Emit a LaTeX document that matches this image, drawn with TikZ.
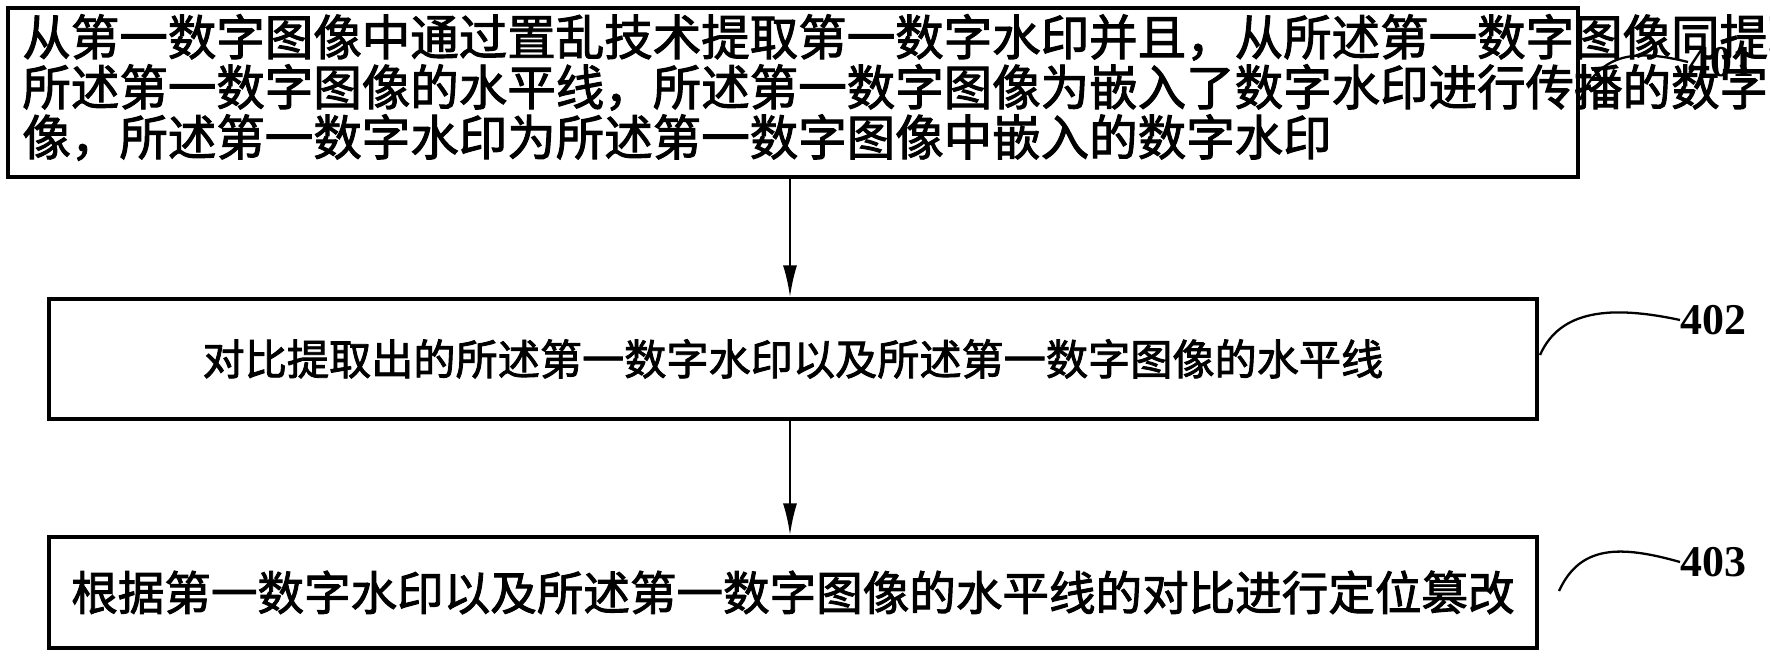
\documentclass[tikz,border=0pt]{standalone}
\usepackage{fontspec}
\setmainfont{Liberation Serif}
\newfontfamily\cjk[FakeBold=2]{Noto Sans CJK SC}
\usetikzlibrary{positioning,arrows.meta}
\tikzstyle{stepbox} = [draw,rectangle,line width=2.2pt,inner sep=0pt,anchor=north west]
\tikzstyle{tag}     = [font=\bfseries\fontsize{25}{25}\selectfont,anchor=west,inner sep=0pt]

\begin{document}
\begin{tikzpicture}[x=0.02cm,y=-0.02cm,>={Latex[length=18pt,width=8pt]},semithick]
\useasboundingbox (0,0) rectangle (1770,656);

\node[stepbox,minimum width=1570*0.02cm,minimum height=169*0.02cm] (S1) at (6,6) {};
\node[align=left,font=\cjk\fontsize{27.6}{28.5}\selectfont,anchor=west] at ([xshift=0.2cm,yshift=0.1cm]S1.west)
  {从第一数字图像中通过置乱技术提取第一数字水印并且，从所述第一数字图像同提取\\
  所述第一数字图像的水平线，所述第一数字图像为嵌入了数字水印进行传播的数字图\\
  像，所述第一数字水印为所述第一数字图像中嵌入的数字水印};
\node[stepbox,minimum width=1488*0.02cm,minimum height=120*0.02cm] (S2) at (47,297) {};
\node[font=\cjk\fontsize{24}{24}\selectfont] at (S2.center)
  {对比提取出的所述第一数字水印以及所述第一数字图像的水平线};
\node[stepbox,minimum width=1488*0.02cm,minimum height=111*0.02cm] (S3) at (47,535) {};
\node[font=\cjk\fontsize{26.5}{26.5}\selectfont] at (S3.center)
  {根据第一数字水印以及所述第一数字图像的水平线的对比进行定位篡改};

\coordinate (axis) at (790,0);
\draw[->,line width=1.3pt] (S1.south -| axis) -- (S2.north -| axis);
\draw[->,line width=1.3pt] (S2.south -| axis) -- (S3.north -| axis);

\node[tag] (L1) at (1688,62) {401};
\node[tag] (L2) at (1680,320) {402};
\node[tag] (L3) at (1680,562) {403};

\draw[line width=1.3pt] (1580,100) .. controls (1600,50) and (1640,50) .. (L1.west);
\draw[line width=1.3pt] (1540,355) .. controls (1560,310) and (1610,305) .. (L2.west);
\draw[line width=1.3pt] (1559,591) .. controls (1580,545) and (1620,545) .. (L3.west);
\end{tikzpicture}
\end{document}
